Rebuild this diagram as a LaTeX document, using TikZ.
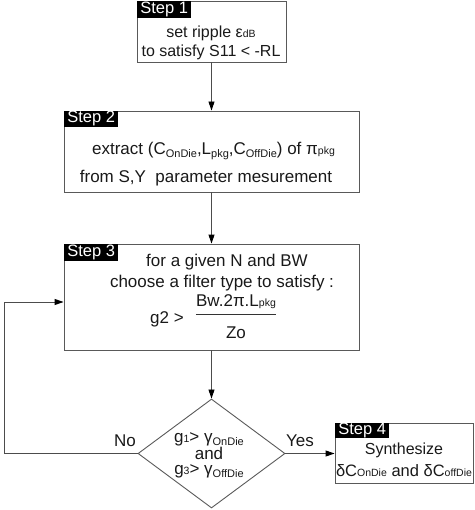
\documentclass[tikz,border=0pt]{standalone}
\usepackage{fontspec}
\setmainfont{Liberation Sans}
\usetikzlibrary{positioning,shapes.geometric,arrows.meta}
\newcommand{\lowtxt}[1]{{\fontsize{10.5}{12}\selectfont #1}}
\newcommand{\subtxt}[1]{\raisebox{-3.5pt}[0pt][0pt]{\fontsize{11}{12}\selectfont #1}}

\begin{document}
\begin{tikzpicture}[x=1pt,y=-1pt,
    font=\fontsize{17}{20}\selectfont,
    box/.style={draw=black!65,line width=0.9pt,inner sep=0pt},
    steplbl/.style={fill=black,text=white,anchor=north west,inner sep=0pt,inner xsep=3.5pt,font=\fontsize{16.5}{16}\selectfont},
    txt/.style={inner sep=0pt,align=center,text=black!90},
    arr/.style={draw=black!70,line width=0.9pt,-{Triangle[length=9pt,width=6pt,color=black]}}]
    \useasboundingbox (0,0) rectangle (474,510);
    % boxes
    \node[box,minimum width=149pt,minimum height=61pt] (set) at (211.5,31.5) {};
    \node[box,minimum width=295pt,minimum height=81pt] (extract) at (211.5,151.5) {};
    \node[box,minimum width=295pt,minimum height=106pt] (choose) at (211.5,297) {};
    \node[box,diamond,minimum width=147pt,minimum height=109pt] (test) at (211.5,453.5) {};
    \node[box,minimum width=138pt,minimum height=60pt] (synth) at (404,453.5) {};
    % step labels
    \node[steplbl,minimum height=17pt] (s1) at (set.north west) {Step 1};
    \node[steplbl,minimum height=16pt] (s2) at (extract.north west) {Step 2};
    \node[steplbl,minimum height=17pt] (s3) at (choose.north west) {Step 3};
    \node[steplbl,minimum height=14pt] (s4) at (synth.north west) {Step 4};
    % texts
    \node[txt,font=\fontsize{16}{19.5}\selectfont] (setT) at (211,43) {set ripple ε\lowtxt{dB}\\to satisfy S11 < -RL};
    \node[txt] (extractA) at (213.5,150) {extract (C\subtxt{OnDie},L\subtxt{pkg},C\subtxt{OffDie}) of π\lowtxt{pkg}};
    \node[txt] (extractB) at (206,178) {from S,Y\ \ parameter mesurement};
    \node[txt] (given) at (227,262) {for a given N and BW};
    \node[txt] (chooseT) at (222,283) {choose a filter type to satisfy :};
    \node[txt,anchor=west] (gtwo) at (150,319) {g2 >};
    \node[txt] (num) at (236,302) {Bw.2π.L\lowtxt{pkg}};
    \node[txt] (den) at (236,333) {Zo};
    \draw[black!80,line width=0.8pt] ([yshift=-5pt]num.south west) -- ([yshift=-5pt]num.south east);
    \node[txt,font=\fontsize{17}{15}\selectfont] (cond) at (209,455) {g\lowtxt{1}> γ\subtxt{OnDie}\\and\\g\lowtxt{3}> γ\subtxt{OffDie}};
    \node[txt] (no) at (125,441) {No};
    \node[txt] (yes) at (300,441) {Yes};
    \node[txt,font=\fontsize{16}{20}\selectfont] (synthA) at (404,450) {Synthesize};
    \node[txt,font=\fontsize{16.5}{20}\selectfont] (synthB) at (404,471) {δC\lowtxt{OnDie} and δC\lowtxt{offDie}};
    % connectors
    \coordinate (loopbot) at (4,453.5);
    \coordinate (looptop) at (4,302);
    \draw[arr] (set) -- (extract);
    \draw[arr] (extract) -- (choose);
    \draw[arr] (choose) -- (test);
    \draw[arr] (test.east) -- (test.east -| synth.west);
    \draw[arr] (test.west) -- (loopbot) -- (looptop) -- (looptop -| choose.west);
\end{tikzpicture}
\end{document}
